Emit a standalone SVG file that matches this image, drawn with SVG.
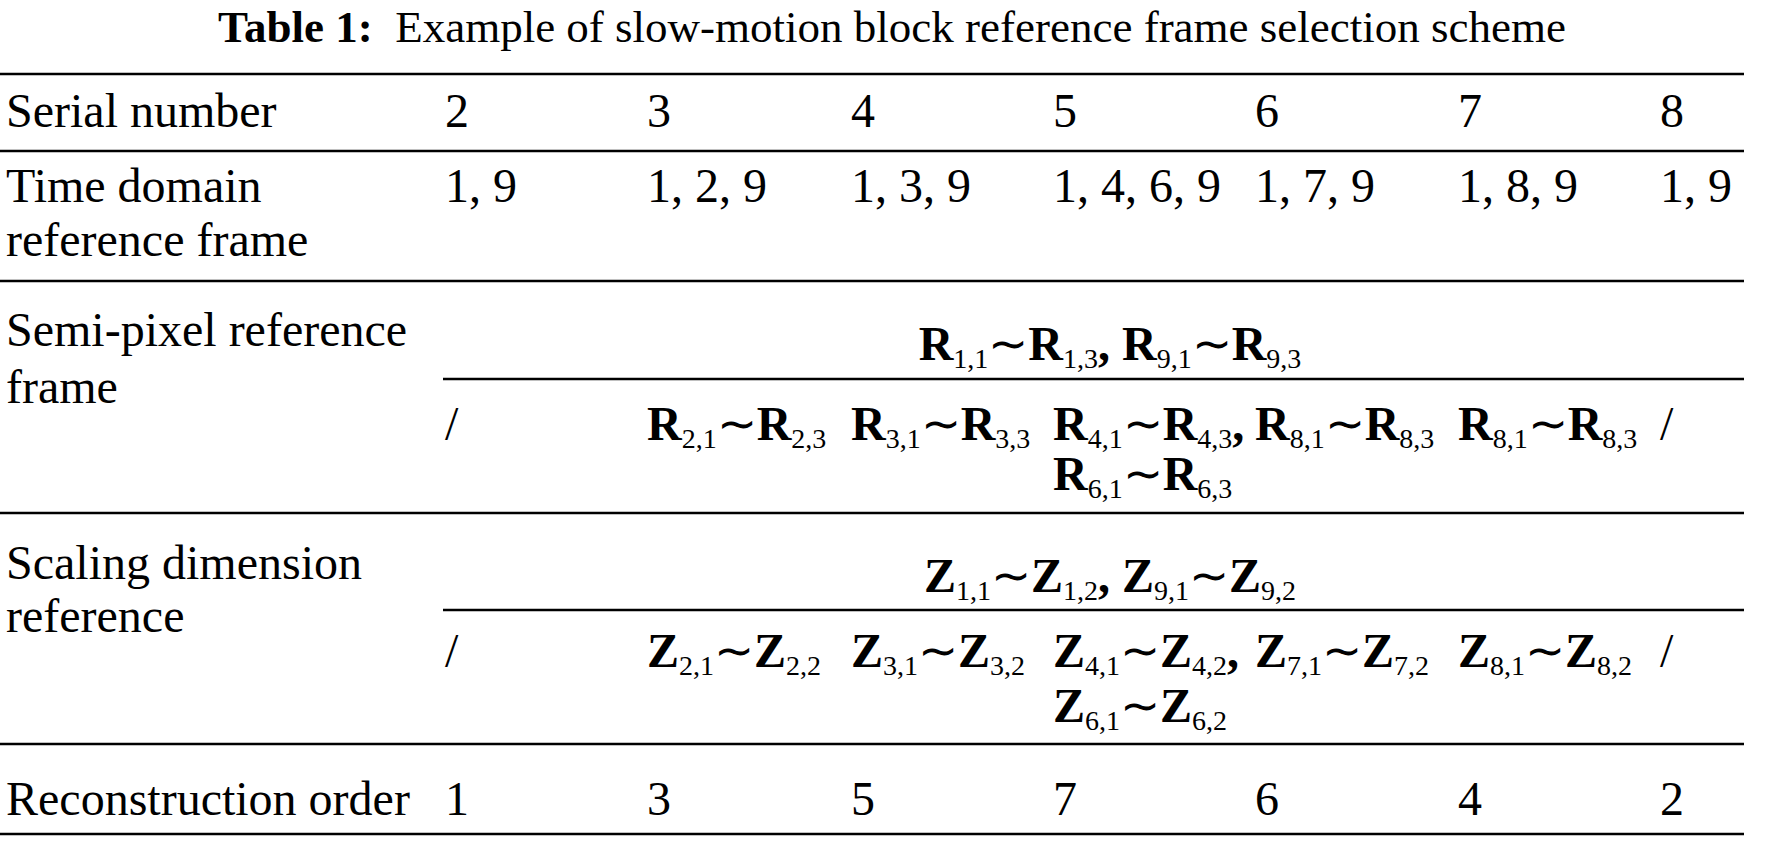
<svg xmlns="http://www.w3.org/2000/svg" width="1779" height="842" viewBox="0 0 1779 842">
<style>
text{font-family:"Liberation Serif","Times New Roman",serif;font-size:48px;fill:#000}
.t{font-size:45px}
.b{font-weight:bold}
.s{font-size:28px;font-weight:normal}
.n{font-weight:normal}
line{stroke:#000;stroke-width:2.5}
</style>
<rect width="1779" height="842" fill="#fff"/>
<text class="t" x="892" y="42" text-anchor="middle" xml:space="preserve"><tspan class="b">Table 1:</tspan>  Example of slow-motion block reference frame selection scheme</text>
<g id="rules">
<line x1="0" y1="74" x2="1744" y2="74"/>
<line x1="0" y1="151" x2="1744" y2="151"/>
<line x1="0" y1="281" x2="1744" y2="281"/>
<line x1="443" y1="379" x2="1744" y2="379"/>
<line x1="0" y1="513" x2="1744" y2="513"/>
<line x1="443" y1="610" x2="1744" y2="610"/>
<line x1="0" y1="744" x2="1744" y2="744"/>
<line x1="0" y1="834" x2="1744" y2="834"/>
</g>
<g id="row-serial">
<text x="6" y="127">Serial number</text>
<text x="445" y="127">2</text><text x="647" y="127">3</text><text x="851" y="127">4</text><text x="1053" y="127">5</text><text x="1255" y="127">6</text><text x="1458" y="127">7</text><text x="1660" y="127">8</text>
</g>
<g id="row-time">
<text x="6" y="202">Time domain</text><text x="6" y="256">reference frame</text>
<text x="445" y="202">1, 9</text><text x="647" y="202">1, 2, 9</text><text x="851" y="202">1, 3, 9</text><text x="1053" y="202">1, 4, 6, 9</text><text x="1255" y="202">1, 7, 9</text><text x="1458" y="202">1, 8, 9</text><text x="1660" y="202">1, 9</text>
</g>
<g id="row-semi">
<text x="6" y="346">Semi-pixel reference</text><text x="6" y="403">frame</text>
<text x="1110" y="360" text-anchor="middle" class="b">R<tspan class="s" dy="8">1,1</tspan><tspan class="n" dy="-8">∼</tspan>R<tspan class="s" dy="8">1,3</tspan><tspan dy="-8">, R</tspan><tspan class="s" dy="8">9,1</tspan><tspan class="n" dy="-8">∼</tspan>R<tspan class="s" dy="8">9,3</tspan></text>
<text x="445" y="440">/</text>
<text x="647" y="440" class="b">R<tspan class="s" dy="8">2,1</tspan><tspan class="n" dy="-8">∼</tspan>R<tspan class="s" dy="8">2,3</tspan></text>
<text x="851" y="440" class="b">R<tspan class="s" dy="8">3,1</tspan><tspan class="n" dy="-8">∼</tspan>R<tspan class="s" dy="8">3,3</tspan></text>
<text x="1053" y="440" class="b">R<tspan class="s" dy="8">4,1</tspan><tspan class="n" dy="-8">∼</tspan>R<tspan class="s" dy="8">4,3</tspan><tspan dy="-8">,</tspan></text>
<text x="1053" y="490" class="b">R<tspan class="s" dy="8">6,1</tspan><tspan class="n" dy="-8">∼</tspan>R<tspan class="s" dy="8">6,3</tspan></text>
<text x="1255" y="440" class="b">R<tspan class="s" dy="8">8,1</tspan><tspan class="n" dy="-8">∼</tspan>R<tspan class="s" dy="8">8,3</tspan></text>
<text x="1458" y="440" class="b">R<tspan class="s" dy="8">8,1</tspan><tspan class="n" dy="-8">∼</tspan>R<tspan class="s" dy="8">8,3</tspan></text>
<text x="1660" y="440">/</text>
</g>
<g id="row-scaling">
<text x="6" y="579">Scaling dimension</text><text x="6" y="632">reference</text>
<text x="1110" y="592" text-anchor="middle" class="b">Z<tspan class="s" dy="8">1,1</tspan><tspan class="n" dy="-8">∼</tspan>Z<tspan class="s" dy="8">1,2</tspan><tspan dy="-8">, Z</tspan><tspan class="s" dy="8">9,1</tspan><tspan class="n" dy="-8">∼</tspan>Z<tspan class="s" dy="8">9,2</tspan></text>
<text x="445" y="667">/</text>
<text x="647" y="667" class="b">Z<tspan class="s" dy="8">2,1</tspan><tspan class="n" dy="-8">∼</tspan>Z<tspan class="s" dy="8">2,2</tspan></text>
<text x="851" y="667" class="b">Z<tspan class="s" dy="8">3,1</tspan><tspan class="n" dy="-8">∼</tspan>Z<tspan class="s" dy="8">3,2</tspan></text>
<text x="1053" y="667" class="b">Z<tspan class="s" dy="8">4,1</tspan><tspan class="n" dy="-8">∼</tspan>Z<tspan class="s" dy="8">4,2</tspan><tspan dy="-8">,</tspan></text>
<text x="1053" y="722" class="b">Z<tspan class="s" dy="8">6,1</tspan><tspan class="n" dy="-8">∼</tspan>Z<tspan class="s" dy="8">6,2</tspan></text>
<text x="1255" y="667" class="b">Z<tspan class="s" dy="8">7,1</tspan><tspan class="n" dy="-8">∼</tspan>Z<tspan class="s" dy="8">7,2</tspan></text>
<text x="1458" y="667" class="b">Z<tspan class="s" dy="8">8,1</tspan><tspan class="n" dy="-8">∼</tspan>Z<tspan class="s" dy="8">8,2</tspan></text>
<text x="1660" y="667">/</text>
</g>
<g id="row-order">
<text x="6" y="815">Reconstruction order</text>
<text x="445" y="815">1</text><text x="647" y="815">3</text><text x="851" y="815">5</text><text x="1053" y="815">7</text><text x="1255" y="815">6</text><text x="1458" y="815">4</text><text x="1660" y="815">2</text>
</g>
</svg>
